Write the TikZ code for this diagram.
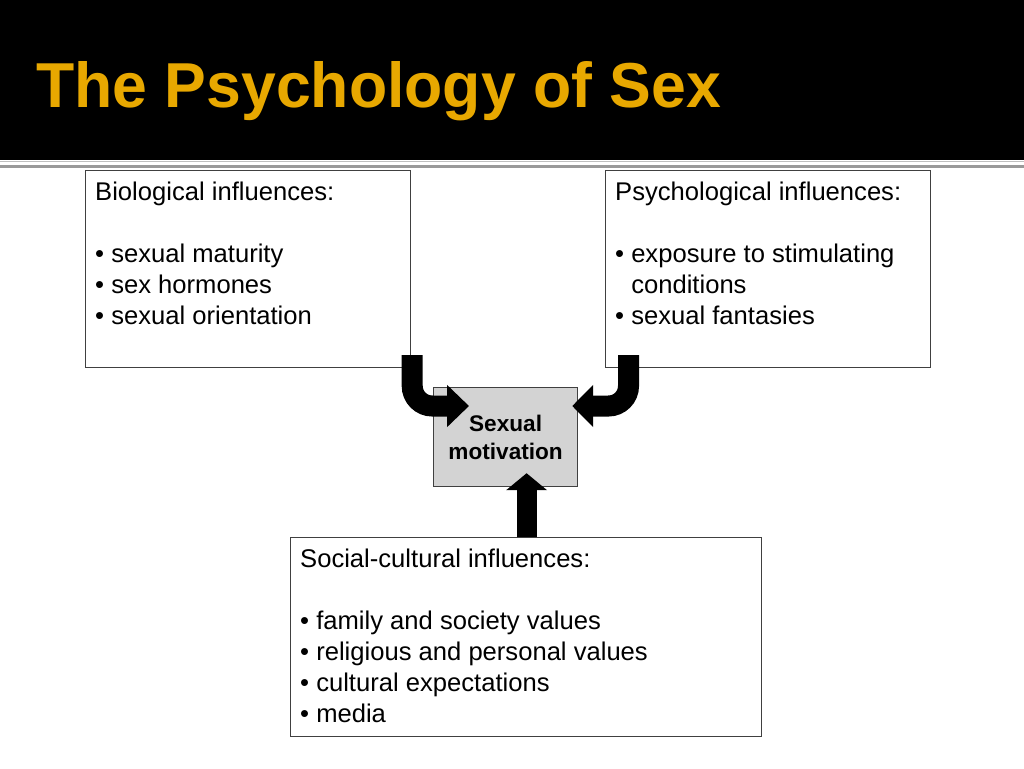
\documentclass[tikz,border=0pt]{standalone}
\usepackage{fontspec}
\setmainfont{Liberation Sans}
\usetikzlibrary{arrows.meta,calc}
\definecolor{gold}{RGB}{232,168,0}
\definecolor{boxgray}{RGB}{211,211,211}
\begin{document}
\begin{tikzpicture}[x=1pt,y=-1pt,
  infobox/.style={draw=black!75, line width=1.2pt, fill=white, inner sep=0pt, anchor=north west},
  bodytext/.style={anchor=base west, inner sep=0pt, font=\fontsize{25.6}{31}\selectfont},
  bigarrow/.style={line width=21pt, rounded corners=20pt, -{Triangle[length=22pt,width=41pt]}}
]
\useasboundingbox (0,0) rectangle (1024,768);
\fill[white] (0,0) rectangle (1024,768);
\fill[black] (0,0) rectangle (1024,160);
\draw[black!25, line width=1pt] (0,161) -- (1024,161);
\fill[black!40] (0,165) rectangle (1024,168);
\node[anchor=base west, inner sep=0pt, text=gold, font=\fontsize{63.5}{70}\selectfont\bfseries] (title) at (36,107) {\scalebox{0.985}[1]{The Psychology of Sex}};

\node[infobox, minimum width=325pt, minimum height=197pt] (bio) at (85,170) {};
\node[infobox, minimum width=325pt, minimum height=197pt] (psych) at (605,170) {};
\node[infobox, minimum width=471pt, minimum height=199pt] (social) at (290,537) {};
\node[infobox, fill=boxgray, minimum width=144pt, minimum height=99pt,
  font=\fontsize{22.6}{28}\selectfont\bfseries, align=center] (motiv) at (433,387) {Sexual\\motivation};

\node[bodytext] (biotxt) at (95,200.7) {\begin{tabular}[t]{@{}l@{}}Biological influences:\\ \\ • sexual maturity\\ • sex hormones\\ • sexual orientation\end{tabular}};
\node[bodytext] (psychtxt) at (615,200.7) {\begin{tabular}[t]{@{}l@{}}Psychological influences:\\ \\ • exposure to stimulating\\ \phantom{• }conditions\\ • sexual fantasies\end{tabular}};
\node[bodytext] (socialtxt) at (300,567.3) {\begin{tabular}[t]{@{}l@{}}Social-cultural influences:\\ \\ • family and society values\\ • religious and personal values\\ • cultural expectations\\ • media\end{tabular}};

\coordinate (ls) at ($(bio.south east)+(1,-13)$);
\coordinate (lt) at ($(motiv.north west)+(36,19)$);
\draw[bigarrow] (ls) -- (ls |- lt) -- (lt);

\coordinate (rs) at ($(psych.south west)+(23.5,-13)$);
\coordinate (rt) at ($(motiv.north east)+(-6,19)$);
\draw[bigarrow, -{Triangle[length=21pt,width=41pt]}] (rs) -- (rs |- rt) -- (rt);

\coordinate (bt) at ($(motiv.south)+(21,-14)$);
\draw[bigarrow, line width=20pt, -{Triangle[length=17pt,width=40pt]}] (social.north -| bt) -- (bt);
\end{tikzpicture}
\end{document}
